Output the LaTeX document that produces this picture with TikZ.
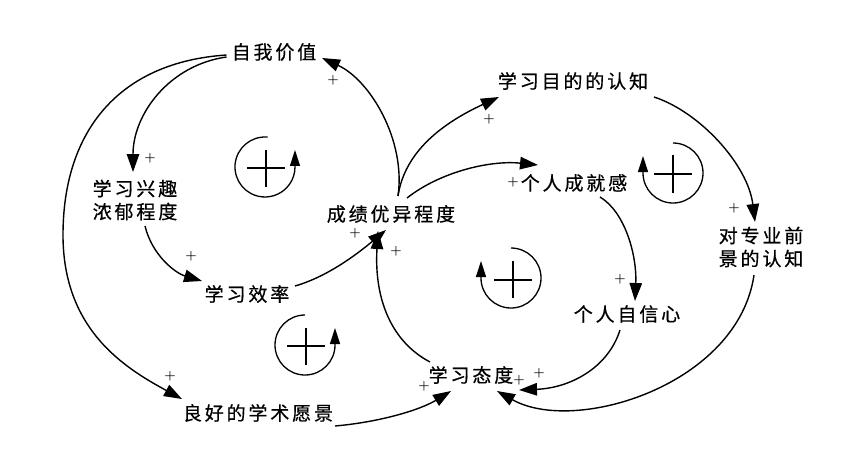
\documentclass[tikz,border=0pt]{standalone}
\usepackage{fontspec}
\newfontfamily\cjk[LetterSpace=15,FakeBold=0.6]{Noto Sans CJK SC}
\usetikzlibrary{arrows.meta,calc}
\begin{document}
\begin{tikzpicture}[x=1pt,y=-1pt,
  lbl/.style={font={\cjk\fontsize{19}{23}\selectfont}, inner sep=0pt, align=center},
  pl/.style={font={\bfseries\fontsize{13}{13}\selectfont}, inner sep=0pt},
  conn/.style={line width=1.4pt, -{Triangle[length=18pt,width=12.5pt]}},
  loopc/.style={line width=1.3pt, -{Triangle[length=16pt,width=10pt]}},
  bigplus/.style={line width=2.4pt}]
\useasboundingbox (0,0) rectangle (864,466);
% nodes
\node[lbl] (zw)  at (274,52)  {自我价值};
\node[lbl] (xq)  at (135,200) {学习兴趣\\浓郁程度};
\node[lbl] (xl)  at (247,294) {学习效率};
\node[lbl] (lh)  at (258,413) {良好的学术愿景};
\node[lbl] (cj)  at (391,214) {成绩优异程度};
\node[lbl] (md)  at (573,81)  {学习目的的认知};
\node[lbl] (cjg) at (574,183) {个人成就感};
\node[lbl] (zy)  at (761,247) {对专业前\\景的认知};
\node[lbl] (zx)  at (627,314) {个人自信心};
\node[lbl] (td)  at (471,375) {学习态度};
% connectors
\draw[conn] ($(zw)+(-47.5,5)$) .. controls +(-57,8) and +(0,-58) .. ($(xq)+(-2,-28)$);
\draw[conn] ($(zw)+(-47.5,3)$) .. controls (120,62) and (63,130) .. (63,235)
            .. controls (63,330) and (125,368) .. ($(lh)+(-76,-14)$);
\draw[conn] ($(cj)+(7,-18)$) .. controls (406,140) and (370,80) .. ($(zw)+(48,6)$);
\draw[conn] ($(xq)+(10,26)$) .. controls (152,255) and (175,273) .. ($(xl)+(-45,-13)$);
\draw[conn] ($(xl)+(48,-8)$) .. controls (330,276) and (362,250) .. ($(cj)+(-5,16)$);
\draw[conn] ($(cj)+(7,-18)$) .. controls (405,150) and (445,122) .. ($(md)+(-74,16)$);
\draw[conn] ($(cj)+(16,-16)$) .. controls (440,172) and (490,160) .. ($(cjg)+(-36,-18)$);
\draw[conn] ($(md)+(81,16)$) .. controls (700,112) and (748,165) .. ($(zy)+(-6,-25)$);
\draw[conn] ($(cjg)+(26,14)$) .. controls (625,212) and (637,255) .. ($(zx)+(8,-13)$);
\draw[conn] ($(zx)+(-7,16)$) .. controls (608,368) and (570,388) .. ($(td)+(48,15)$);
\draw[conn] ($(zy)+(-7,28)$) .. controls (738,385) and (575,435) .. ($(td)+(26,16)$);
\draw[conn] ($(td)+(-41,-13)$) .. controls (392,342) and (374,300) .. ($(cj)+(-13,17)$);
\draw[conn] ($(lh)+(77,13)$) .. controls (380,422) and (420,410) .. ($(td)+(-20,16)$);
% polarity signs
\node[pl] (p1)  at (150,158) {+};
\node[pl] (p2)  at (170,376) {+};
\node[pl] (p3)  at (333,80)  {+};
\node[pl] (p4)  at (191,256) {+};
\node[pl] (p5)  at (355,233) {+};
\node[pl] (p6)  at (396,251) {+};
\node[pl] (p7)  at (489,119) {+};
\node[pl] (p8)  at (513,182) {+};
\node[pl] (p9)  at (734,208) {+};
\node[pl] (p10) at (620,279) {+};
\node[pl] (p11) at (539,373) {+};
\node[pl] (p12) at (519,380) {+};
\node[pl] (p13) at (424,386) {+};
% loop symbols
\draw[loopc] (267.6,137.1) arc[start angle=-85, end angle=-360, radius=30] -- ++(0,-17);
\draw[bigplus] (247,168) -- (285,168) (266,150) -- (266,187);
\draw[loopc] (673,143) arc[start angle=-90, end angle=180, radius=30] -- ++(0,-17);
\draw[bigplus] (654,174) -- (692,174) (673,155) -- (673,193);
\draw[loopc] (511,248) arc[start angle=-90, end angle=180, radius=30] -- ++(0,-17);
\draw[bigplus] (494,280) -- (532,280) (513,261) -- (513,298);
\draw[loopc] (305,315) arc[start angle=-90, end angle=-360, radius=30] -- ++(0,-17);
\draw[bigplus] (287,346) -- (325,346) (306,328) -- (306,365);
\end{tikzpicture}
\end{document}
